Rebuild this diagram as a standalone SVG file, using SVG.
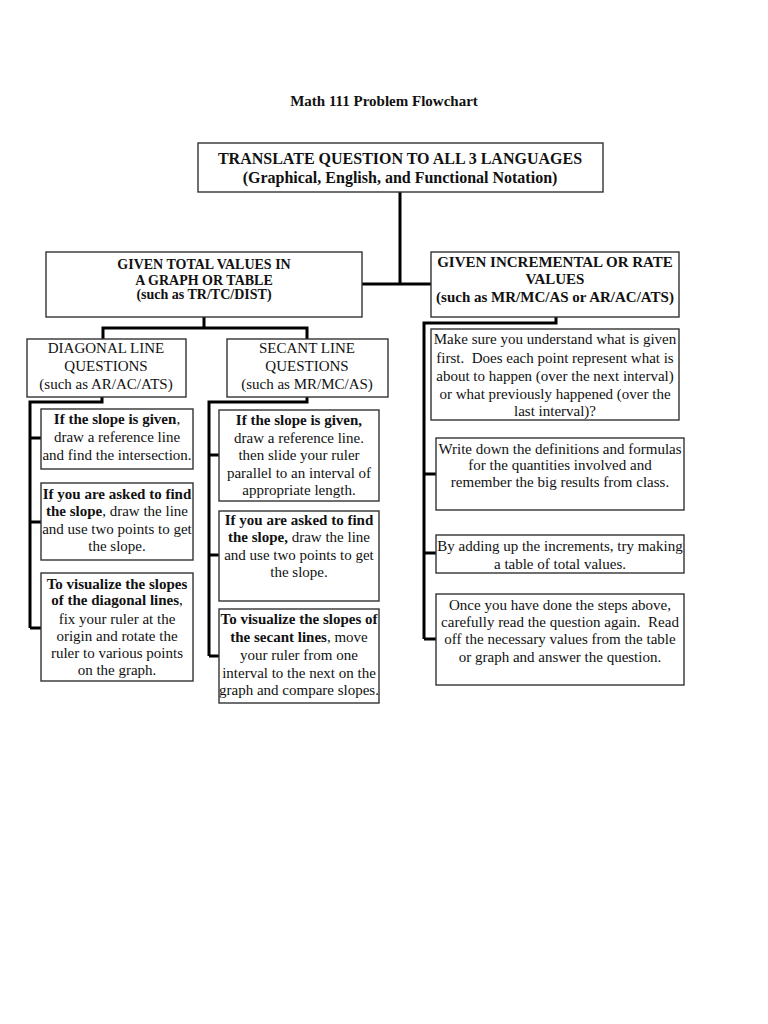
<svg xmlns="http://www.w3.org/2000/svg" width="768" height="1024" viewBox="0 0 768 1024">
<style>
text{font-family:"Liberation Serif","Times New Roman",serif;fill:#111;text-anchor:middle;font-size:15px;white-space:pre}
.b{font-weight:bold}
.box{fill:#fff;stroke:#333;stroke-width:1.4}
.c{fill:none;stroke:#000;stroke-width:3;stroke-linejoin:miter;stroke-linecap:butt}
</style>
<rect width="768" height="1024" fill="#fff"/>
<text x="384" y="106" class="b">Math 111 Problem Flowchart</text>

<g id="connectors">
<path class="c" d="M400,192 V284 M362,284 H431"/>
<path class="c" d="M204,317 V328 M103,339 V328 H307 V339"/>
<path class="c" d="M102,397 V402 H30 V628 M30,438 H41 M30,522 H41 M30,628 H41"/>
<path class="c" d="M307,397 V402 H209 V656 M209,455 H219 M209,555 H219 M209,656 H219"/>
<path class="c" d="M556,317 V323 H424 V639 M424,474 H436 M424,553 H436 M424,639 H436"/>
</g>

<g id="top">
<rect class="box" x="198" y="143" width="405" height="49"/>
<text x="400" y="164" class="b" style="font-size:16px">TRANSLATE QUESTION TO ALL 3 LANGUAGES</text>
<text x="400" y="183" class="b" style="font-size:16px">(Graphical, English, and Functional Notation)</text>
</g>

<g id="total">
<rect class="box" x="46" y="252" width="316" height="65"/>
<text x="204" y="268.5" class="b" style="font-size:14px">GIVEN TOTAL VALUES IN</text>
<text x="204" y="284.5" class="b" style="font-size:14px">A GRAPH OR TABLE</text>
<text x="204" y="298.5" class="b" style="font-size:14px">(such as TR/TC/DIST)</text>
</g>

<g id="incremental">
<rect class="box" x="431" y="252" width="248" height="65"/>
<text x="555" y="266.5" class="b">GIVEN INCREMENTAL OR RATE</text>
<text x="555" y="284" class="b">VALUES</text>
<text x="555" y="302" class="b">(such as MR/MC/AS or AR/AC/ATS)</text>
</g>

<g id="diagonal">
<rect class="box" x="27" y="339" width="159" height="58"/>
<text x="106" y="353">DIAGONAL LINE</text>
<text x="106" y="371">QUESTIONS</text>
<text x="106" y="389">(such as AR/AC/ATS)</text>
</g>

<g id="secant">
<rect class="box" x="227" y="339" width="161" height="58"/>
<text x="307" y="353">SECANT LINE</text>
<text x="307" y="371">QUESTIONS</text>
<text x="307" y="389">(such as MR/MC/AS)</text>
</g>

<g id="d1">
<rect class="box" x="41" y="409" width="152" height="60"/>
<text x="117" y="423.5"><tspan class="b">If the slope is given</tspan>,</text>
<text x="117" y="441.5">draw a reference line</text>
<text x="117" y="459.5">and find the intersection.</text>
</g>

<g id="d2">
<rect class="box" x="41" y="483" width="152" height="77"/>
<text x="117" y="499" class="b">If you are asked to find</text>
<text x="117" y="516"><tspan class="b">the slope</tspan>, draw the line</text>
<text x="117" y="533.5">and use two points to get</text>
<text x="117" y="550.5">the slope.</text>
</g>

<g id="d3">
<rect class="box" x="41" y="573" width="152" height="108"/>
<text x="117" y="588.5" class="b">To visualize the slopes</text>
<text x="117" y="605"><tspan class="b">of the diagonal lines</tspan>,</text>
<text x="117" y="623.5">fix your ruler at the</text>
<text x="117" y="640.5">origin and rotate the</text>
<text x="117" y="658">ruler to various points</text>
<text x="117" y="675">on the graph.</text>
</g>

<g id="s1">
<rect class="box" x="219" y="410" width="160" height="91"/>
<text x="299" y="425" class="b">If the slope is given,</text>
<text x="299" y="443">draw a reference line.</text>
<text x="299" y="460">then slide your ruler</text>
<text x="299" y="478">parallel to an interval of</text>
<text x="299" y="495">appropriate length.</text>
</g>

<g id="s2">
<rect class="box" x="219" y="511" width="160" height="90"/>
<text x="299" y="525" class="b">If you are asked to find</text>
<text x="299" y="542"><tspan class="b">the slope,</tspan> draw the line</text>
<text x="299" y="559.5">and use two points to get</text>
<text x="299" y="577">the slope.</text>
</g>

<g id="s3">
<rect class="box" x="219" y="609" width="160" height="94"/>
<text x="299" y="623.5" class="b">To visualize the slopes of</text>
<text x="299" y="642"><tspan class="b">the secant lines</tspan>, move</text>
<text x="299" y="660">your ruler from one</text>
<text x="299" y="678">interval to the next on the</text>
<text x="299" y="695">graph and compare slopes.</text>
</g>

<g id="r1">
<rect class="box" x="431" y="329" width="248" height="91"/>
<text x="555" y="344">Make sure you understand what is given</text>
<text x="555" y="363">first.  Does each point represent what is</text>
<text x="555" y="380.5">about to happen (over the next interval)</text>
<text x="555" y="398.5">or what previously happened (over the</text>
<text x="555" y="416">last interval)?</text>
</g>

<g id="r2">
<rect class="box" x="436" y="438" width="248" height="72"/>
<text x="560" y="453.5">Write down the definitions and formulas</text>
<text x="560" y="470">for the quantities involved and</text>
<text x="560" y="487">remember the big results from class.</text>
</g>

<g id="r3">
<rect class="box" x="436" y="535" width="248" height="38"/>
<text x="560" y="551">By adding up the increments, try making</text>
<text x="560" y="568.5">a table of total values.</text>
</g>

<g id="r4">
<rect class="box" x="436" y="594" width="248" height="91"/>
<text x="560" y="610">Once you have done the steps above,</text>
<text x="560" y="627">carefully read the question again.  Read</text>
<text x="560" y="644">off the necessary values from the table</text>
<text x="560" y="661.5">or graph and answer the question.</text>
</g>
</svg>
